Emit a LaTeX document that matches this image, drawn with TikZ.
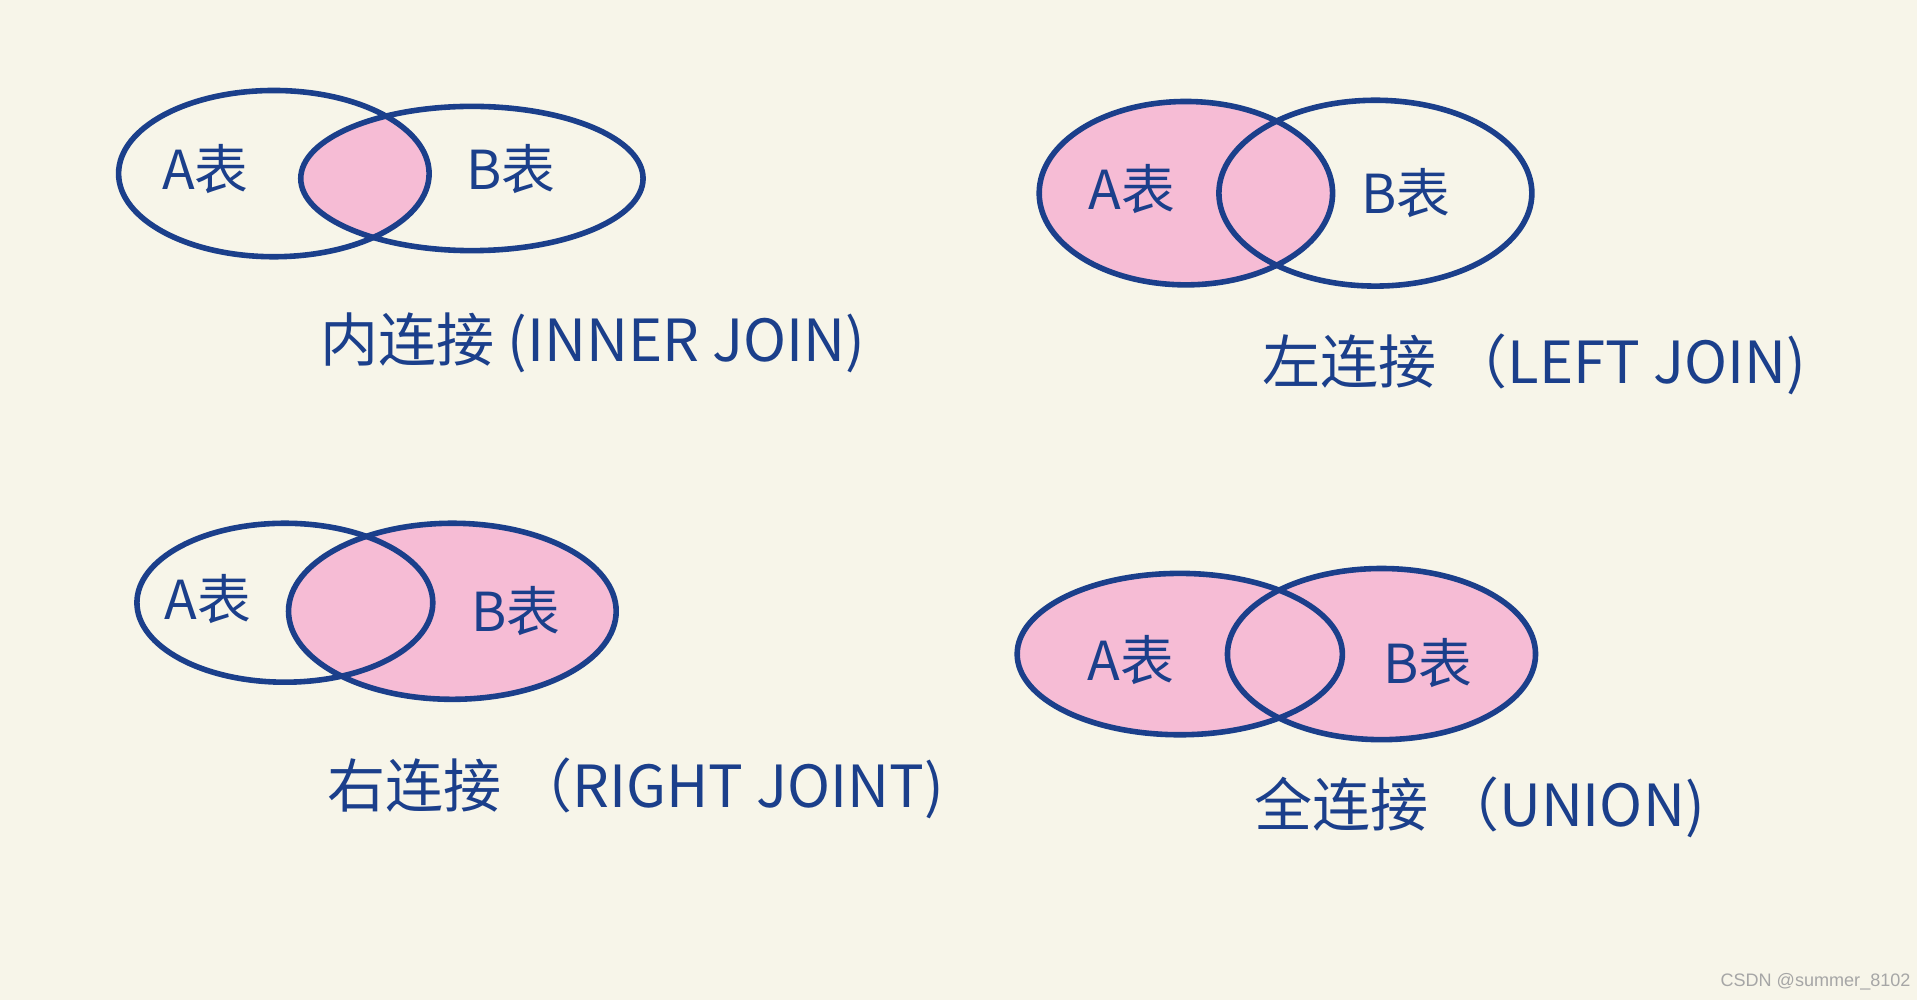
\documentclass[tikz,border=0pt]{standalone}
\usepackage{fontspec}
\setmainfont{Noto Sans CJK SC}
\newfontfamily\wm{Liberation Sans}
\definecolor{bg}{HTML}{F7F5E9}
\definecolor{ink}{HTML}{1B3F8B}
\definecolor{pk}{HTML}{F6BCD5}
\begin{document}
\begin{tikzpicture}[x=0.01cm,y=-0.01cm,
  ring/.style={draw=ink,line width=1.3pt},
  lab/.style={text=ink,font=\fontsize{12.5}{15}\selectfont},
  captxt/.style={text=ink,font=\fontsize{13.5}{16}\selectfont}]
\fill[bg] (0,0) rectangle (1568,818);
\useasboundingbox (0,0) rectangle (1568,818);
% inner
\begin{scope}
\clip (224,142) ellipse [x radius=127,y radius=68];
\fill[pk] (386,146) ellipse [x radius=140,y radius=59];
\end{scope}
\draw[ring] (224,142) ellipse [x radius=127,y radius=68];
\draw[ring] (386,146) ellipse [x radius=140,y radius=59];
\node[lab] (a1) at (168,138) {A表};
\node[lab] (b1) at (418,138) {B表};
\node[captxt] (c1) at (485,280) {内连接 (INNER JOIN)};
% left
\fill[pk] (970,158) ellipse [x radius=120,y radius=75];
\draw[ring] (970,158) ellipse [x radius=120,y radius=75];
\draw[ring] (1125,158) ellipse [x radius=128,y radius=76];
\node[lab] (a2) at (926,155) {A表};
\node[lab] (b2) at (1150,158) {B表};
\node[captxt] (c2) at (1255,298) {左连接 （LEFT JOIN)};
% right
\fill[pk] (370,500) ellipse [x radius=134,y radius=72];
\draw[ring] (233,493) ellipse [x radius=121,y radius=65];
\draw[ring] (370,500) ellipse [x radius=134,y radius=72];
\node[lab] (a3) at (170,490) {A表};
\node[lab] (b3) at (422,500) {B表};
\node[captxt] (c3) at (520,645) {右连接 （RIGHT JOINT)};
% full
\fill[pk] (965,535) ellipse [x radius=133,y radius=66];
\fill[pk] (1130,535) ellipse [x radius=126,y radius=70];
\draw[ring] (965,535) ellipse [x radius=133,y radius=66];
\draw[ring] (1130,535) ellipse [x radius=126,y radius=70];
\node[lab] (a4) at (925,540) {A表};
\node[lab] (b4) at (1168,542) {B表};
\node[captxt] (c4) at (1210,660) {全连接 （UNION)};
\node[text=gray!70,font=\wm\fontsize{4.2}{6}\selectfont] (w) at (1485,803) {CSDN @summer\_8102};
\end{tikzpicture}
\end{document}
